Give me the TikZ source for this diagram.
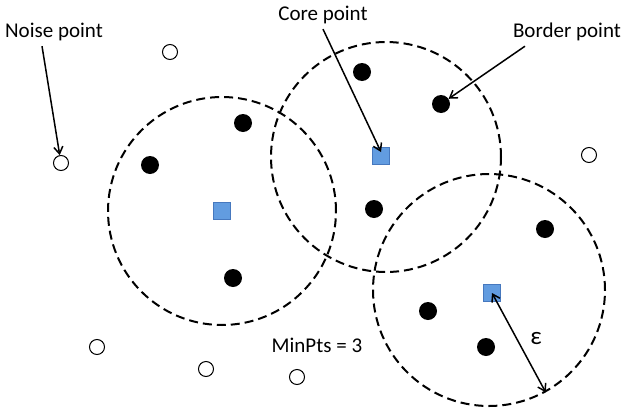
\documentclass[tikz,border=0pt]{standalone}
\usepackage{fontspec}
\setmainfont{Carlito}
\usetikzlibrary{arrows.meta}
\definecolor{coreblue}{RGB}{98,156,224}
\definecolor{coreedge}{RGB}{70,120,190}
\begin{document}
\begin{tikzpicture}[x=1pt,y=-1pt,
  region/.style={draw,circle,dashed,dash pattern=on 9pt off 5pt,line width=2pt,inner sep=0pt},
  blk/.style={circle,fill=black,minimum size=18pt,inner sep=0pt},
  opn/.style={circle,draw=black,line width=1pt,fill=white,minimum size=15pt,inner sep=0pt},
  sq/.style={rectangle,fill=coreblue,draw=coreedge,line width=0.5pt,minimum size=17pt,inner sep=0pt},
  lab/.style={font=\fontsize{21}{25}\selectfont,inner sep=0pt},
  arr/.style={-{Straight Barb[length=7pt,width=9pt]},line width=1.5pt}]
\useasboundingbox (0,0) rectangle (627,410);
% regions
\node[region,minimum size=228pt] (c1) at (222,211) {};
\node[region,minimum size=230pt] (c2) at (386,157) {};
\node[region,minimum size=232pt] (c3) at (489,290) {};
% core points
\node[sq] (s1) at (222,211) {};
\node[sq] (s2) at (381,156) {};
\node[sq] (s3) at (492,293) {};
% border / cluster points
\node[blk] (b1) at (243,123) {};
\node[blk] (b2) at (150,165) {};
\node[blk] (b3) at (233,278) {};
\node[blk] (b4) at (362,72) {};
\node[blk] (b5) at (441,104) {};
\node[blk] (b6) at (374,209) {};
\node[blk] (b7) at (545,229) {};
\node[blk] (b8) at (428,311) {};
\node[blk] (b9) at (486,347) {};
% noise points
\node[opn] (n1) at (61,163) {};
\node[opn] (n2) at (170,52) {};
\node[opn] (n3) at (589,155) {};
\node[opn] (n4) at (97,347) {};
\node[opn] (n5) at (206,369) {};
\node[opn] (n6) at (297,377) {};
% labels
\node[lab] (lnoise) at (54,32) {Noise point};
\node[lab] (lcore) at (323,15) {Core point};
\node[lab] (lborder) at (567,32) {Border point};
\node[lab] (lmin) at (317,345) {MinPts = 3};
\node[lab,font=\fontsize{25}{28}\selectfont] (leps) at (536,339) {ε};
% arrows
\draw[arr] ([xshift=-12pt,yshift=-5pt]lnoise.south) -- (n1);
\draw[arr] ([yshift=-5pt]lcore.south) -- ([yshift=4pt]s2.center);
\draw[arr] ([xshift=-42pt,yshift=-5pt]lborder.south) -- (b5);
\draw[{Straight Barb[length=7pt,width=9pt]}-{Straight Barb[length=7pt,width=9pt]},line width=1.5pt] (s3.center) -- (c3.-61);
\end{tikzpicture}
\end{document}
